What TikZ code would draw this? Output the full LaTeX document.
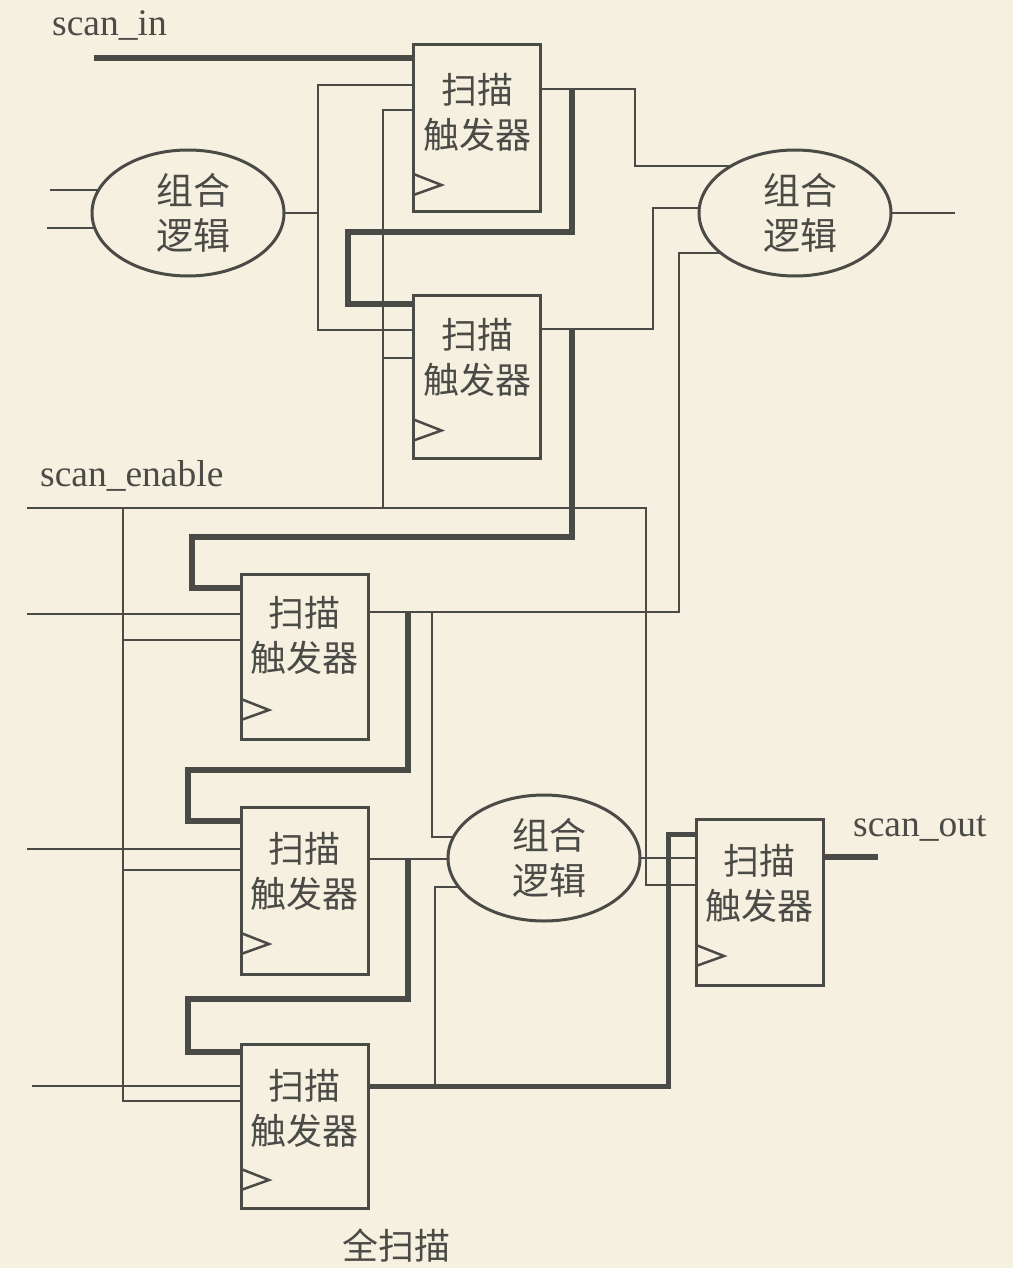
\documentclass[tikz,border=0pt]{standalone}
\usepackage{fontspec}
\setmainfont{Liberation Serif}
\newfontfamily\cjk{Noto Sans CJK SC}
\usetikzlibrary{shapes.geometric}
\definecolor{paper}{HTML}{F5F0DF}
\definecolor{ink}{HTML}{4A4A46}
\tikzset{
  flipflop/.style={draw=ink, line width=3pt, outer sep=0pt, minimum width=127pt, minimum height=166pt, inner sep=0pt,
    align=center, text=ink, font=\fontsize{36}{45}\selectfont\cjk},
  logic/.style={ellipse, draw=ink, line width=3pt, outer sep=0pt, minimum width=192pt, minimum height=126pt, inner sep=0pt,
    align=center, text=ink, font=\fontsize{37}{45}\selectfont\cjk},
  tag/.style={inner sep=0pt, text=ink, font=\fontsize{37.5}{40}\selectfont},
  wire/.style={draw=ink, line width=2pt},
  clockmark/.style={draw=ink, line width=2.5pt},
  scanwire/.style={draw=ink, line width=6pt},
}
\newcommand{\fflabel}[1]{扫描\\触发器\\[#1pt]~}
\newcommand{\logiclabel}{\hspace*{10pt}组合\\\hspace*{10pt}逻辑}
\begin{document}
\begin{tikzpicture}[x=1pt,y=-1pt]
  \useasboundingbox (0,0) rectangle (1013,1268);
  \fill[paper] (0,0) rectangle (1013,1268);
  \draw
    (477,128) node[flipflop] (ff1){\fflabel{-11}}
    (477,377) node[flipflop, minimum height=163pt] (ff2){\fflabel{-3}}
    (304.5,656.5) node[flipflop, minimum height=165pt] (ff3){\fflabel{1}}
    (304.5,890.5) node[flipflop, minimum height=167pt] (ff4){\fflabel{-3}}
    (304.5,1126) node[flipflop, minimum height=164pt] (ff5){\fflabel{-6}}
    (759.5,902) node[flipflop] (ff6){\fflabel{-5}}
    (188,213) node[logic] (e1){\logiclabel}
    (795,213) node[logic] (e2){\logiclabel}
    (544,858) node[logic] (e3){\logiclabel}
    (52,26) node[tag, anchor=west] (scanin){scan\_in}
    (40,476) node[tag, anchor=west] (scanenable){scan\_enable}
    (853,828) node[tag, anchor=west] (scanout){scan\_out}
    (396,1246) node[inner sep=0pt, text=ink, font=\fontsize{36}{40}\selectfont\cjk] (caption){全扫描};
  % ports on the blocks
  \draw
    (414,58) coordinate (s1) (414,85) coordinate (d1) (414,110) coordinate (c1) (540,89) coordinate (q1)
    (414,304) coordinate (s2) (414,330) coordinate (d2) (414,358) coordinate (c2) (540,329) coordinate (q2)
    (241,588) coordinate (s3) (241,614) coordinate (d3) (241,640) coordinate (c3) (368,612) coordinate (q3)
    (241,821) coordinate (s4) (241,849) coordinate (d4) (241,870) coordinate (c4) (368,859) coordinate (q4)
    (241,1052) coordinate (s5) (241,1086) coordinate (d5) (241,1101) coordinate (c5) (368,1086) coordinate (q5)
    (696,834) coordinate (s6) (696,858) coordinate (d6) (696,885) coordinate (c6) (823,857) coordinate (q6);
  % free ends
  \draw
    (94,58) coordinate (inscan)
    (27,508) coordinate (inenable)
    (878,857) coordinate (outscan)
    (955,213) coordinate (oute2)
    (50,190) coordinate (ina)
    (47,228) coordinate (inb)
    (27,614) coordinate (ind3)
    (27,849) coordinate (ind4)
    (32,1086) coordinate (ind5);
  % clock marks
  \draw[clockmark] (ff1.south west) ++(0,-37) -- ++(28,11) -- ++(-28,10);
  \draw[clockmark] (ff2.south west) ++(0,-39) -- ++(28,11) -- ++(-28,10);
  \draw[clockmark] (ff3.south west) ++(0,-40) -- ++(28,11) -- ++(-28,10);
  \draw[clockmark] (ff4.south west) ++(0,-41) -- ++(28,11) -- ++(-28,10);
  \draw[clockmark] (ff5.south west) ++(0,-39) -- ++(28,11) -- ++(-28,10);
  \draw[clockmark] (ff6.south west) ++(0,-40) -- ++(28,11) -- ++(-28,10);
  \begin{scope}[wire]
    \draw (ina) to (ina -| e1.165);
    \draw (inb) to (inb -| e1.189);
    \draw (e1.east) to (318,213);
    \draw (d1) -| (318,330) -- (d2);
    \draw (c1) -| (383,508);
    \draw (c2) to (383,358);
    \draw (q1) -| (635,166) |- (e2.144);
    \draw (q2) -| (653,250) |- (e2.177);
    \draw (q3) -| (679,300) |- (e2.208);
    \draw (e2.east) to (oute2);
    \draw (inenable) -| (646,700) |- (c6);
    \draw (123,508) |- (c5);
    \draw (123,640) to (c3);
    \draw (123,870) to (c4);
    \draw (ind3) to (d3);
    \draw (ind4) to (d4);
    \draw (ind5) to (d5);
    \draw (432,612) |- (e3.167);
    \draw (q4) to (e3.west |- q4);
    \draw (435,1086) |- (e3.199);
    \draw (e3.east) to (d6);
  \end{scope}
  \begin{scope}[scanwire]
    \draw (inscan) to (s1);
    \draw (572,89) -- (572,232) -- (348,232) -- (348,304) -- (s2);
    \draw (572,329) -- (572,537) -- (192,537) -- (192,588) -- (s3);
    \draw (408,612) -- (408,770) -- (188,770) -- (188,821) -- (s4);
    \draw (408,859) -- (408,999) -- (188,999) -- (188,1052) -- (s5);
    \draw[line width=5pt] (q5) -- (668,1086) -- (668,834) -- (s6);
    \draw (q6) to (outscan);
  \end{scope}
\end{tikzpicture}
\end{document}
